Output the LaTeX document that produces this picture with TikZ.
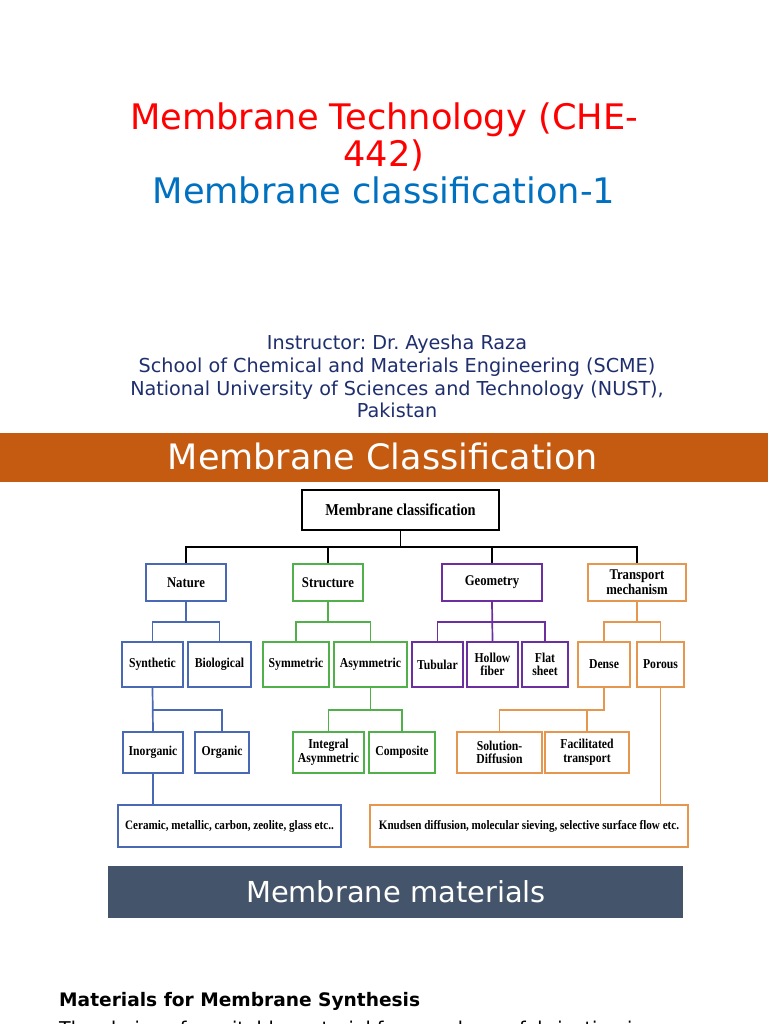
\documentclass[tikz,border=0pt]{standalone}
\usepackage{fontspec}
\setmainfont{DejaVu Sans}
\newfontfamily\dfont[FakeStretch=0.86]{Liberation Serif}
\frenchspacing
\definecolor{tred}{HTML}{FF0000}
\definecolor{tblue}{HTML}{0070C0}
\definecolor{navy}{HTML}{1F2F6E}
\definecolor{band}{HTML}{C55A11}
\definecolor{slate}{HTML}{44546A}
\definecolor{cblue}{HTML}{4A69B5}
\definecolor{cgreen}{HTML}{52B04A}
\definecolor{cpurple}{HTML}{6B2FA0}
\definecolor{corange}{HTML}{E5964F}
\tikzset{
  box/.style={draw, line width=1.7pt, inner sep=1pt, align=center, text=black,
    font=\dfont\bfseries\fontsize{13.6}{13.6}\selectfont},
  lvlone/.style={box, minimum height=37pt, font=\dfont\bfseries\fontsize{14.8}{14.8}\selectfont},
  lvltwo/.style={box, minimum height=45pt},
  lvlthree/.style={box, minimum height=41pt},
  leaf/.style={box, minimum height=42pt, font=\dfont\bfseries\fontsize{12.9}{13}\selectfont},
  bl/.style={draw=cblue}, gr/.style={draw=cgreen}, pu/.style={draw=cpurple}, orr/.style={draw=corange},
  wire/.style={line width=1.7pt},
  ttl/.style={anchor=base, inner sep=0, font=\fontsize{35.2}{40}\selectfont},
  inst/.style={anchor=base, inner sep=0, text=navy, font=\fontsize{19.2}{22}\selectfont},
}
\begin{document}
\begin{tikzpicture}[x=1pt,y=-1pt]
\useasboundingbox (0,0) rectangle (768,1024);
\fill[white] (0,0) rectangle (768,1024);
% titles
\node[ttl, text=tred] (t1) at (384,130) {Membrane Technology (CHE-};
\node[ttl, text=tred] (t2) at (384,167) {442)};
\node[ttl, text=tblue] (t3) at (384,204) {Membrane classification-1};
\node[inst] (i1) at (397,349) {Instructor: Dr. Ayesha Raza};
\node[inst] (i2) at (397,372) {School of Chemical and Materials Engineering (SCME)};
\node[inst] (i3) at (397,395) {National University of Sciences and Technology (NUST),};
\node[inst] (i4) at (397,417) {Pakistan};
% orange band
\fill[band] (0,433) rectangle (768,482);
\node[anchor=base, text=white, font=\fontsize{35}{40}\selectfont, inner sep=0] (h1) at (383,469) {Membrane Classification};
% diagram
\node[box, draw=black, minimum width=197pt, minimum height=40pt, font=\dfont\bfseries\fontsize{16.7}{17}\selectfont] (root) at (400.5,510) {Membrane classification};
\node[lvlone, bl, minimum width=80pt] (nature) at (186,582.5) {Nature};
\node[lvlone, gr, minimum width=70pt] (structure) at (328,582.5) {Structure};
\node[lvlone, pu, minimum width=100pt] (geometry) at (492,582.5) {Geometry};
\node[lvlone, orr, minimum width=98pt] (transport) at (637,582.5) {Transport\\mechanism};
\node[lvltwo, bl, minimum width=61pt] (synthetic) at (152.5,664.5) {Synthetic};
\node[lvltwo, bl, minimum width=63pt] (biological) at (219.5,664.5) {Biological};
\node[lvltwo, gr, minimum width=66pt] (symmetric) at (296,664.5) {Symmetric};
\node[lvltwo, gr, minimum width=73pt] (asymmetric) at (370.5,664.5) {Asymmetric};
\node[lvltwo, pu, minimum width=51pt] (tubular) at (437.5,664.5) {Tubular};
\node[lvltwo, pu, minimum width=51pt] (hollow) at (492.5,664.5) {Hollow\\fiber};
\node[lvltwo, pu, minimum width=46pt] (flat) at (545,664.5) {Flat\\sheet};
\node[lvltwo, orr, minimum width=52pt] (dense) at (604,664.5) {Dense};
\node[lvltwo, orr, minimum width=47pt] (porous) at (660.5,664.5) {Porous};
\node[lvlthree, bl, minimum width=60pt] (inorganic) at (153,752.5) {Inorganic};
\node[lvlthree, bl, minimum width=54pt] (organic) at (222,752.5) {Organic};
\node[lvlthree, gr, minimum width=71pt] (integral) at (328.5,752.5) {Integral\\Asymmetric};
\node[lvlthree, gr, minimum width=66pt] (composite) at (402,752.5) {Composite};
\node[lvlthree, orr, minimum width=85pt] (solution) at (499.5,752.5) {Solution-\\Diffusion};
\node[lvlthree, orr, minimum width=84pt] (facilitated) at (587,752.5) {Facilitated\\transport};
\node[leaf, bl, minimum width=223pt] (ceramic) at (229.5,826) {Ceramic, metallic, carbon, zeolite, glass etc..};
\node[leaf, orr, minimum width=318pt] (knudsen) at (529,826) {Knudsen diffusion, molecular sieving, selective surface flow etc.};
% connectors
\coordinate (bus) at (0,547);
\draw[wire] (root.south) -- (root.south |- bus);
\draw[wire] (nature.north) -- (nature.north |- bus) -| (transport.north);
\draw[wire] (structure.north) -- (structure.north |- bus);
\draw[wire] (geometry.north) -- (geometry.north |- bus);
\coordinate (sub) at (0,622);
\draw[wire, cblue] (nature.south) -- (nature.south |- sub);
\draw[wire, cblue] (synthetic.north) -- (synthetic.north |- sub) -| (biological.north);
\draw[wire, cgreen] (structure.south) -- (structure.south |- sub);
\draw[wire, cgreen] (symmetric.north) -- (symmetric.north |- sub) -| (asymmetric.north);
\draw[wire, cpurple] (geometry.south) -- (hollow.north);
\draw[wire, cpurple] (tubular.north) -- (tubular.north |- sub) -| (flat.north);
\draw[wire, corange] (transport.south) -- (transport.south |- sub);
\draw[wire, corange] (dense.north) -- (dense.north |- sub) -| (porous.north);
\coordinate (sub2) at (0,710);
\draw[wire, cblue] (synthetic.south) -- (inorganic.north);
\draw[wire, cblue] (synthetic.south |- sub2) -| (organic.north);
\draw[wire, cgreen] (asymmetric.south) -- (asymmetric.south |- sub2);
\draw[wire, cgreen] (integral.north) -- (integral.north |- sub2) -| (composite.north);
\draw[wire, corange] (dense.south) -- (dense.south |- sub2) -| (solution.north);
\draw[wire, corange] (facilitated.north) -- (facilitated.north |- sub2);
\draw[wire, corange] (porous.south) -- (porous.south |- knudsen.north);
\draw[wire, cblue] (inorganic.south) -- (inorganic.south |- ceramic.north);
% slate band
\fill[slate] (108,866) rectangle (683,918);
\node[anchor=base, text=white, font=\fontsize{28.9}{32}\selectfont, inner sep=0] (h2) at (396,902) {Membrane materials};
% body text
\node[anchor=base west, text=black, font=\bfseries\fontsize{18.6}{22}\selectfont, inner sep=0] (m1) at (59,1006) {Materials for Membrane Synthesis};
\node[anchor=base west, text=black, font=\fontsize{19}{22}\selectfont, inner sep=0] (m2) at (59,1035) {The choice of a suitable material for membrane fabrication is};
\end{tikzpicture}
\end{document}
